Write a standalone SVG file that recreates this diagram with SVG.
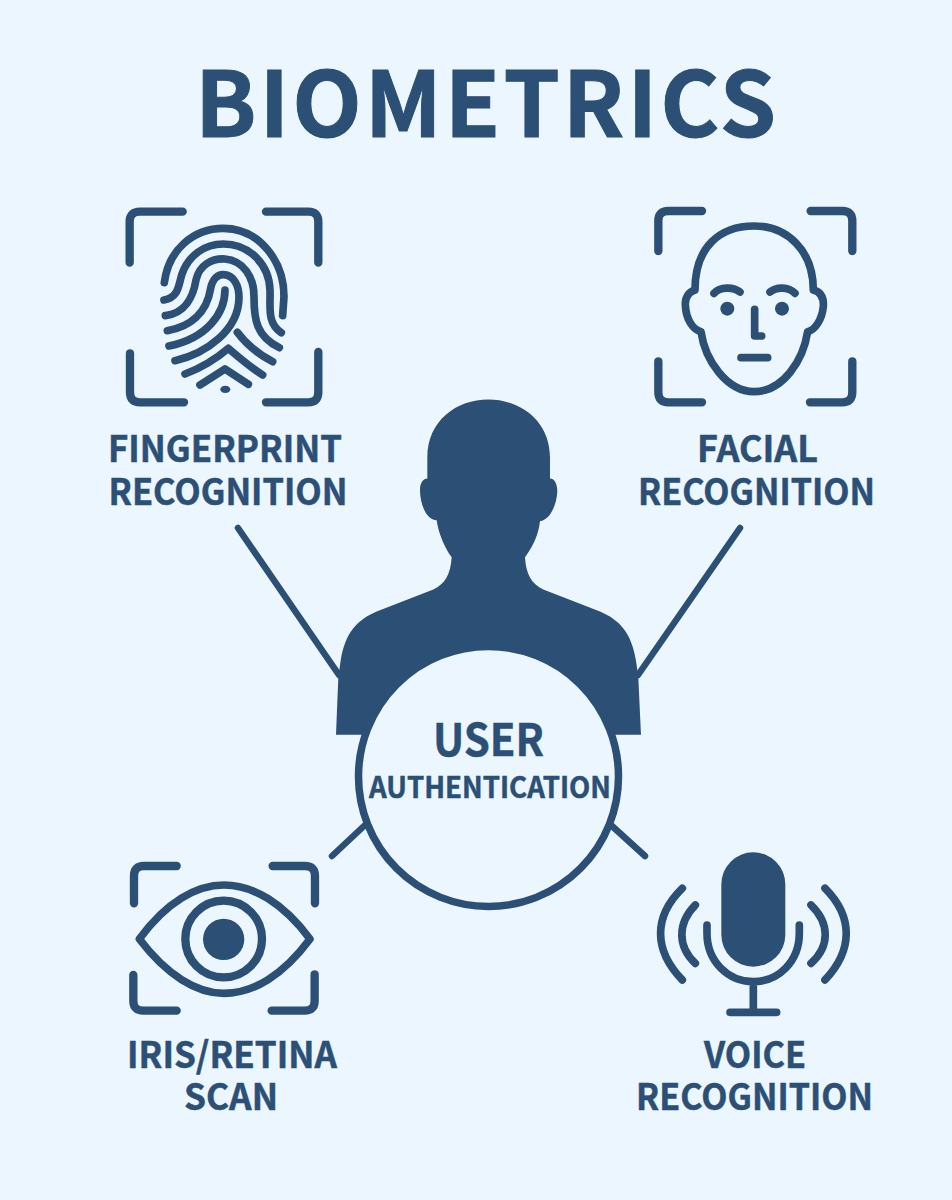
<svg xmlns="http://www.w3.org/2000/svg" width="952" height="1200" viewBox="0 0 952 1200">
<style>
.bg{fill:#ebf6fe}
.t{font-family:"Noto Sans CJK JP","Noto Sans","Open Sans",sans-serif;font-weight:700;fill:#2c4f75;stroke:#2c4f75;stroke-width:.5px;text-anchor:middle}
.l{font-size:36px}
.s{fill:none;stroke:#2c4f75;stroke-linecap:round;stroke-linejoin:round}
.f{fill:#2c4f75}
.ic{stroke-width:23}
.fr{stroke-width:25}
.c{stroke-width:6.500}
</style>
<rect class="bg" width="952" height="1200"/>
<text id="title" class="t" x="487" y="137" font-size="90" letter-spacing="3" style="stroke-width:1px" textLength="584" lengthAdjust="spacingAndGlyphs">BIOMETRICS</text>
<g id="connectors">
<path class="s c" d="M238 528L339 675M740 528L638 675M332 856L364 826M645 856L612 826"/>
</g>
<g id="fingerprint" transform="translate(110 190) scale(.3333)">
<path class="s fr" d="M59 218V95Q59 65 90 65H218M468 65H595Q625 65 625 95V218M60 490V607Q60 637 90 637H222M625 486V607Q625 637 595 637H468"/>
<path class="s ic" d="M163 278C175 180 250 115 340 115C445 115 522 210 522 320L518 377"/>
<path class="s ic" d="M162 330C205 322 205 290 215 255C235 195 285 162 340 162C420 162 478 225 480 300C482 350 470 400 514 428"/>
<path class="s ic" d="M166 377C225 370 250 320 258 270C268 225 305 205 345 207C400 212 432 260 432 320C432 390 440 440 508 473"/>
<path class="s ic" d="M172 422C240 410 290 370 302 295C308 265 325 252 342 254C370 256 388 285 387 325C385 420 290 490 195 512"/>
<path class="s ic" d="M345 300C345 370 290 445 177 468"/>
<path class="s ic" d="M382 427C410 465 450 495 488 515"/>
<path class="s ic" d="M225 552C270 535 320 505 355 475C390 505 425 535 458 555"/>
<path class="s ic" d="M270 585L345 537L415 583"/>
<ellipse class="f" cx="346" cy="598" rx="15" ry="11"/>
</g>
<g id="fingerprint-label">
<text class="t l" x="225" y="462" textLength="234" lengthAdjust="spacingAndGlyphs">FINGERPRINT</text>
<text class="t l" x="228" y="505" textLength="239" lengthAdjust="spacingAndGlyphs">RECOGNITION</text>
</g>
<g id="face" transform="translate(640 190) scale(.3333)">
<path class="s fr" d="M55 183V93Q55 63 85 63H186M512 63H607Q637 63 637 93V183M55 514V607Q55 637 85 637H186M637 514V607Q637 637 607 637H510"/>
<path class="s ic" d="M165 300C165 170 240 108 342 108C440 108 520 180 520 300C540 305 552 320 550 350C546 390 525 420 503 425C490 510 430 605 342 605C260 605 195 510 183 425C160 420 138 390 136 345C135 320 148 305 165 300Z"/>
<path class="s ic" d="M222 310C240 290 280 290 300 306M390 306C410 290 445 290 465 310M344 358V438H365M303 503H383"/>
<circle class="f" cx="262" cy="356" r="21"/>
<circle class="f" cx="426" cy="356" r="21"/>
</g>
<g id="face-label">
<text class="t l" x="757.500" y="462" textLength="121" lengthAdjust="spacingAndGlyphs">FACIAL</text>
<text class="t l" x="756.500" y="505" textLength="237" lengthAdjust="spacingAndGlyphs">RECOGNITION</text>
</g>
<g id="user" transform="translate(320 390) scale(.3333 .338)">
<path class="f" d="M48 1020L55 850L62 800C75 720 110 680 170 655L340 590C375 575 392 545 395 495C370 460 355 420 350 385C320 385 300 340 300 295C300 275 310 262 322 262L322 200C322 90 410 28 505 28C600 28 690 90 690 200L690 262C705 262 712 280 712 300C710 340 690 385 660 388C655 430 640 460 615 495C618 545 635 575 670 590L840 655C900 680 935 720 948 800L955 850L963 1020Z"/>
</g>
<g id="auth">
<circle cx="488.500" cy="776.500" r="130" fill="#ebf6fe" stroke="#2c4f75" stroke-width="7.500"/>
<text class="t" x="488.500" y="756" font-size="45" textLength="111" lengthAdjust="spacingAndGlyphs">USER</text>
<text class="t" x="490" y="798" font-size="29" textLength="242" lengthAdjust="spacingAndGlyphs">AUTHENTICATION</text>
</g>
<g id="iris" transform="translate(110 840) scale(.3333)">
<path class="s fr" d="M72 190V108Q72 78 102 78H200M488 78H585Q615 78 615 108V190M70 405V482Q70 512 100 512H200M614 403V482Q614 512 584 512H485"/>
<path class="s ic" d="M88 297C170 185 260 135 342 135C430 135 520 190 600 297C520 405 430 460 342 460C260 460 170 405 88 297Z"/>
<circle cx="341" cy="297" r="115" fill="none" stroke="#2c4f75" stroke-width="25"/>
<circle class="f" cx="341" cy="298" r="62"/>
</g>
<g id="iris-label">
<text class="t l" x="232" y="1068" textLength="210" lengthAdjust="spacingAndGlyphs">IRIS/RETINA</text>
<text class="t l" x="231" y="1110" textLength="94" lengthAdjust="spacingAndGlyphs">SCAN</text>
</g>
<g id="voice" transform="translate(640 840) scale(.3333)">
<rect class="f" x="244" y="37" width="192" height="343" rx="96"/>
<path class="s ic" d="M201 255V280C201 365 265 425 340 425C415 425 478 365 478 280V255M340 425V517M270 517H410M127 145C40 230 40 330 127 420M166 195C112 250 112 320 166 370M555 145C640 230 640 330 555 420M513 195C570 250 570 320 513 370"/>
</g>
<g id="voice-label">
<text class="t l" x="755" y="1068" textLength="102" lengthAdjust="spacingAndGlyphs">VOICE</text>
<text class="t l" x="754.500" y="1110" textLength="237" lengthAdjust="spacingAndGlyphs">RECOGNITION</text>
</g>
</svg>
